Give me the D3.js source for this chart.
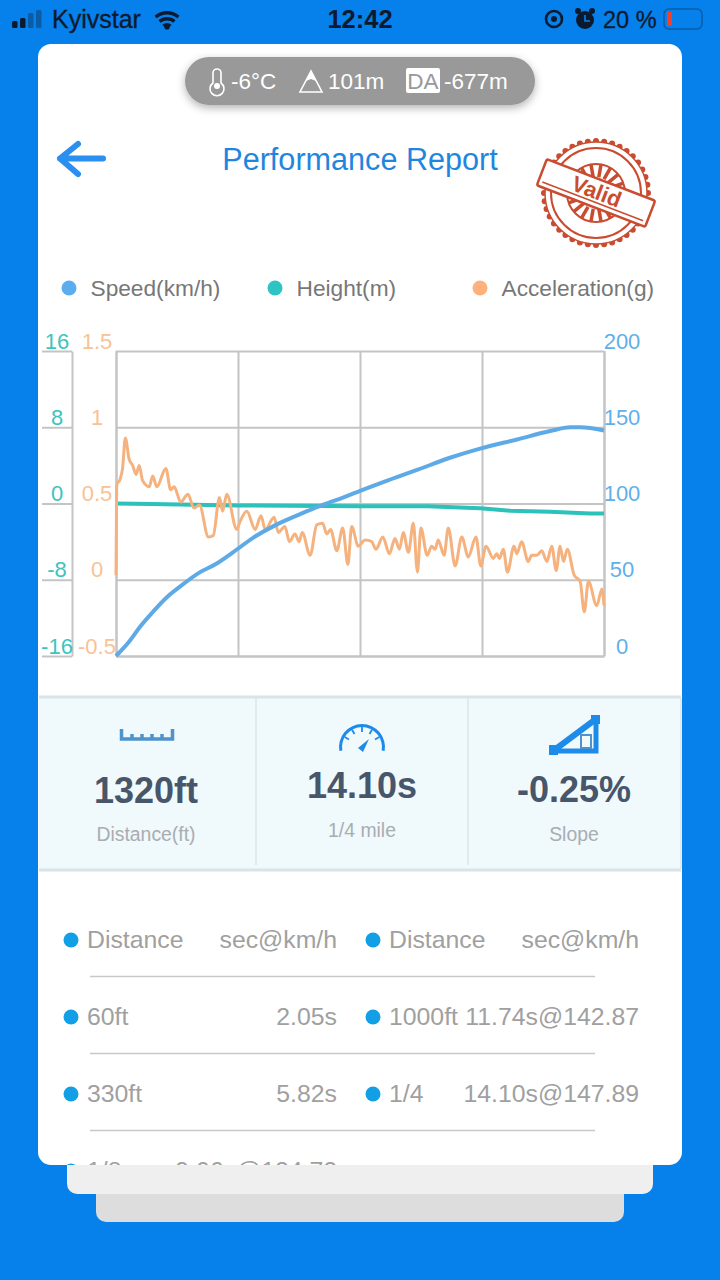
<!doctype html>
<html lang="en">
<head>
    <meta charset="utf-8">
    <script src="https://cdn.jsdelivr.net/npm/d3@7"></script>
    <style>
        html, body { margin: 0; padding: 0; background: #0680ea; }
        svg { display: block; font-family: "Liberation Sans", sans-serif; }
        .tick text { font-size: 22px; text-anchor: middle; }
        .domain { stroke: #c4c4c4; stroke-width: 2; }
        .tick line { stroke: #c4c4c4; stroke-width: 2; }
    </style>
</head>
<body>
    <svg id="page" width="720" height="1280"></svg>
    <script>
        // values
        var accelTime = [0, 0.02, 0.12, 0.19, 0.27, 0.38, 0.48, 0.58, 0.67, 0.77, 0.96, 1.06, 1.18, 1.44, 1.58, 1.68, 1.87, 2.08, 2.25, 2.41, 2.67, 2.81, 2.99, 3.08, 3.20, 3.49, 3.58, 3.78, 4.02, 4.19, 4.31, 4.57, 4.69, 4.88, 5.01, 5.17, 5.29, 5.38, 5.61, 5.80, 5.97, 6.09, 6.20, 6.38, 6.55, 6.70, 6.81, 7.00, 7.20, 7.39, 7.51, 7.71, 7.90, 8.06, 8.19, 8.30, 8.45, 8.59, 8.71, 8.81, 8.99, 9.12, 9.22, 9.31, 9.48, 9.60, 9.80, 9.99, 10.18, 10.40, 10.54, 10.69, 10.90, 11.00, 11.08, 11.19, 11.31, 11.50, 11.58, 11.72, 11.91, 12.01, 12.16, 12.30, 12.45, 12.59, 12.72, 12.83, 12.93, 13.04, 13.24, 13.41, 13.53, 13.65, 13.89, 14.04, 14.10];
        var accelValues = [0.03, 0.62, 0.66, 0.73, 0.93, 0.79, 0.75, 0.69, 0.75, 0.65, 0.61, 0.68, 0.61, 0.73, 0.59, 0.61, 0.51, 0.56, 0.47, 0.49, 0.28, 0.29, 0.54, 0.45, 0.56, 0.33, 0.38, 0.45, 0.33, 0.42, 0.33, 0.41, 0.31, 0.35, 0.25, 0.30, 0.25, 0.31, 0.16, 0.36, 0.37, 0.30, 0.33, 0.19, 0.34, 0.10, 0.35, 0.22, 0.26, 0.25, 0.20, 0.28, 0.17, 0.27, 0.20, 0.31, 0.18, 0.37, 0.05, 0.34, 0.16, 0.22, 0.20, 0.26, 0.16, 0.34, 0.09, 0.28, 0.15, 0.28, 0.09, 0.22, 0.14, 0.17, 0.14, 0.20, 0.05, 0.22, 0.17, 0.25, 0.12, 0.16, 0.16, 0.19, 0.12, 0.22, 0.06, 0.22, 0.12, 0.20, 0.03, -0.01, -0.21, -0.01, -0.17, -0.06, -0.17];
        var speedTime = [0, 0.40, 0.69, 1.07, 1.47, 1.85, 2.43, 2.86, 3.38, 3.96, 4.54, 5.32, 5.90, 6.27, 7.02, 7.72, 8.70, 9.65, 10.52, 11.59, 12.54, 13.12, 13.41, 14.10];
        var speedValues = [0, 10, 19, 29, 38.5, 45.5, 55, 60, 68, 77.5, 85, 93, 98.5, 101.5, 108, 114, 122, 130, 136, 142, 147.5, 150, 150, 147.89];
        var heightTime = [0, 1.0, 3.5, 7.0, 9.0, 10.52, 11.39, 12.54, 13.7, 14.1];
        var heightValues = [0, -0.05, -0.2, -0.3, -0.3, -0.5, -0.75, -0.86, -1.05, -1.05];

        var heightTicks = [-16, -8, 0, 8, 16];
        var accelTicks = [-0.5, 0, 0.5, 1, 1.5];
        var speedTicks = [0, 50, 100, 150, 200];
        var gridTimes = [0, 3.525, 7.05, 10.575, 14.1];

        var legendNames = ["Speed(km/h)", "Height(m)", "Acceleration(g)"];
        var statValues = ["1320ft", "14.10s", "-0.25%"];
        var statNames = ["Distance(ft)", "1/4 mile", "Slope"];
        var leftDistances = ["Distance", "60ft", "330ft", "1/8"];
        var leftResults = ["sec@km/h", "2.05s", "5.82s", "9.06s@124.72"];
        var rightDistances = ["Distance", "1000ft", "1/4"];
        var rightResults = ["sec@km/h", "11.74s@142.87", "14.10s@147.89"];

        var blue = "#0680ea",
            ink = "#0b1a2e",
            speedColor = "#5eaae6",
            heightColor = "#2cc1ba",
            accelColor = "#f5b27e",
            stampRed = "#c94c30";

        var svg = d3.select("#page");

        function label (parent, x, y, txt, size, color, anchor, weight) {
            return parent.append("text")
                .attr("x", x)
                .attr("y", y)
                .attr("font-size", size)
                .attr("fill", color)
                .attr("text-anchor", anchor || "start")
                .attr("font-weight", weight || "normal")
                .text(txt);
        }

        var defs = svg.append("defs");
        defs.append("clipPath").attr("id", "cardClip").append("rect")
            .attr("x", 38).attr("y", 44).attr("width", 644).attr("height", 1121).attr("rx", 13);
        var shadow = defs.append("filter").attr("id", "pillShadow")
            .attr("x", "-10%").attr("y", "-30%").attr("width", "120%").attr("height", "170%");
        shadow.append("feDropShadow").attr("dx", 0).attr("dy", 3).attr("stdDeviation", 4)
            .attr("flood-color", "#000").attr("flood-opacity", 0.3);

        // status bar
        var bar = svg.append("g");
        [[12, 21, ink], [20, 18, ink], [28, 13, "#0a5ca6"], [36, 10, "#0a5ca6"]].forEach(function (b) {
            bar.append("rect").attr("x", b[0]).attr("y", b[1]).attr("width", 5.5).attr("height", 28 - b[1])
                .attr("rx", 1.5).attr("fill", b[2]);
        });
        label(bar, 52, 28, "Kyivstar", 25, ink).attr("stroke", ink).attr("stroke-width", 0.3);
        [19, 13, 7].forEach(function (r) {
            bar.append("path")
                .attr("transform", "translate(167,30)")
                .attr("d", d3.arc()({innerRadius: r - 3.4, outerRadius: r, startAngle: -0.72, endAngle: 0.72}))
                .attr("fill", ink);
        });
        bar.append("circle").attr("cx", 167).attr("cy", 27).attr("r", 2.6).attr("fill", ink);
        label(bar, 360, 28, "12:42", 25.5, ink, "middle", "bold");
        bar.append("circle").attr("cx", 554).attr("cy", 19).attr("r", 8).attr("fill", "none").attr("stroke", ink).attr("stroke-width", 2.6);
        bar.append("circle").attr("cx", 554).attr("cy", 19).attr("r", 3).attr("fill", ink);
        bar.append("circle").attr("cx", 585).attr("cy", 20).attr("r", 9).attr("fill", ink);
        bar.append("circle").attr("cx", 578).attr("cy", 11).attr("r", 3).attr("fill", ink);
        bar.append("circle").attr("cx", 592).attr("cy", 11).attr("r", 3).attr("fill", ink);
        bar.append("path").attr("d", "M585 15V21H590").attr("fill", "none").attr("stroke", blue).attr("stroke-width", 1.6);
        label(bar, 603, 28, "20 %", 23.5, ink).attr("stroke", ink).attr("stroke-width", 0.3);
        bar.append("rect").attr("x", 664).attr("y", 9).attr("width", 38).attr("height", 20).attr("rx", 5)
            .attr("fill", "none").attr("stroke", "#0a5ca6").attr("stroke-width", 1.5);
        bar.append("rect").attr("x", 667).attr("y", 12).attr("width", 5).attr("height", 14).attr("rx", 1).attr("fill", "#f0402c");

        // stacked cards
        svg.append("rect").attr("x", 96).attr("y", 1170).attr("width", 528).attr("height", 52).attr("rx", 10).attr("fill", "#dddddd");
        svg.append("rect").attr("x", 67).attr("y", 1150).attr("width", 586).attr("height", 44).attr("rx", 10).attr("fill", "#efefef");
        var card = svg.append("g").attr("clip-path", "url(#cardClip)");
        card.append("rect").attr("x", 38).attr("y", 44).attr("width", 644).attr("height", 1121).attr("fill", "#fff");

        // weather pill
        var pill = svg.append("g");
        pill.append("rect").attr("x", 185).attr("y", 57).attr("width", 350).attr("height", 48).attr("rx", 24)
            .attr("fill", "#999999").attr("filter", "url(#pillShadow)");
        pill.append("path")
            .attr("d", "M213 83V73a4 4 0 0 1 8 0V83a7 7 0 1 1 -8 0Z")
            .attr("fill", "none").attr("stroke", "#fff").attr("stroke-width", 1.6);
        pill.append("circle").attr("cx", 217).attr("cy", 86).attr("r", 3).attr("fill", "#fff");
        label(pill, 231, 89, "-6°C", 22.5, "#fff");
        pill.append("path").attr("d", "M311 71L300 92H322Z").attr("fill", "none").attr("stroke", "#fff").attr("stroke-width", 1.6);
        pill.append("path").attr("d", "M311 71L306 81L311 79L316 81Z").attr("fill", "#fff");
        label(pill, 328, 89, "101m", 22.5, "#fff");
        pill.append("rect").attr("x", 406).attr("y", 68).attr("width", 34).attr("height", 25).attr("rx", 2).attr("fill", "#fff");
        label(pill, 423, 89, "DA", 22.5, "#999999", "middle");
        label(pill, 444, 89, "-677m", 22.5, "#fff");

        // header
        svg.append("path")
            .attr("d", "M78 144L60 158.5L78 174M60 158.5H103")
            .attr("fill", "none").attr("stroke", "#2b8ff0").attr("stroke-width", 6)
            .attr("stroke-linecap", "round").attr("stroke-linejoin", "round");
        label(svg, 360, 170, "Performance Report", 30.6, "#1f86e0", "middle");

        // stamp
        var stamp = svg.append("g").attr("transform", "translate(596,193)");
        stamp.selectAll(".tooth").data(d3.range(40)).enter().append("circle")
            .attr("cx", function (d) { return 52 * Math.cos(d / 40 * 2 * Math.PI); })
            .attr("cy", function (d) { return 52 * Math.sin(d / 40 * 2 * Math.PI); })
            .attr("r", 3).attr("fill", stampRed);
        stamp.append("circle").attr("r", 51).attr("fill", "#fff").attr("stroke", stampRed).attr("stroke-width", 1.5);
        stamp.append("circle").attr("r", 45).attr("fill", "none").attr("stroke", stampRed).attr("stroke-width", 2);
        stamp.append("circle").attr("r", 29).attr("fill", "none").attr("stroke", stampRed).attr("stroke-width", 2);
        stamp.selectAll(".ray").data(d3.range(18)).enter().append("line")
            .attr("x1", function (d) { return 16 * Math.cos(d / 18 * 2 * Math.PI); })
            .attr("y1", function (d) { return 16 * Math.sin(d / 18 * 2 * Math.PI); })
            .attr("x2", function (d) { return 29 * Math.cos(d / 18 * 2 * Math.PI); })
            .attr("y2", function (d) { return 29 * Math.sin(d / 18 * 2 * Math.PI); })
            .attr("stroke", stampRed).attr("stroke-width", 3.5);
        var ribbon = stamp.append("g").attr("transform", "rotate(21)");
        ribbon.append("rect").attr("x", -58).attr("y", -14).attr("width", 116).attr("height", 28).attr("rx", 2)
            .attr("fill", "#fff").attr("stroke", stampRed).attr("stroke-width", 2.5);
        ribbon.append("line").attr("x1", -54).attr("x2", 54).attr("y1", 9).attr("y2", 9).attr("stroke", stampRed).attr("stroke-width", 1.5);
        label(ribbon, 0, 6, "Valid", 22, stampRed, "middle", "bold");

        // legend
        var legendX = [69, 275, 480],
            legendColors = ["#5aaef0", "#2ec4c4", "#fdb27e"];
        legendNames.forEach(function (name, i) {
            svg.append("circle").attr("cx", legendX[i]).attr("cy", 288).attr("r", 7.5).attr("fill", legendColors[i]);
            label(svg, legendX[i] + 21.5, 296, name, 22.7, "#777777");
        });

        // chart
        var plotLeft = 116, plotRight = 604, plotTop = 351, plotBottom = 656;
        var x = d3.scaleLinear().domain([0, 14.1]).range([plotLeft, plotRight]);
        var yHeight = d3.scaleLinear().domain([-16, 16]).range([plotBottom, plotTop]);
        var yAccel = d3.scaleLinear().domain([-0.5, 1.5]).range([plotBottom, plotTop]);
        var ySpeed = d3.scaleLinear().domain([0, 200]).range([plotBottom, plotTop]);

        var chart = svg.append("g");
        var plainTick = function (d) { return String(d); };

        chart.append("g")
            .attr("transform", "translate(0," + plotBottom + ")")
            .call(d3.axisBottom(x).tickValues(gridTimes).tickSize(-(plotBottom - plotTop)).tickSizeOuter(0).tickFormat(""));

        var heightAxis = chart.append("g")
            .attr("transform", "translate(72,0)")
            .call(d3.axisLeft(yHeight).tickValues(heightTicks).tickSize(30).tickSizeOuter(0).tickFormat(plainTick));
        heightAxis.selectAll("text").attr("x", -15).attr("dy", "-0.13em").attr("fill", "#3cc4be");

        var accelAxis = chart.append("g")
            .attr("transform", "translate(" + plotLeft + ",0)")
            .call(d3.axisLeft(yAccel).tickValues(accelTicks).tickSize(-(plotRight - plotLeft)).tickSizeOuter(0).tickFormat(plainTick));
        accelAxis.selectAll("text").attr("x", -19).attr("dy", "-0.13em").attr("fill", "#f9c294");

        var speedAxis = chart.append("g")
            .attr("transform", "translate(" + plotRight + ",0)")
            .call(d3.axisRight(ySpeed).tickValues(speedTicks).tickSize(0).tickSizeOuter(0).tickFormat(plainTick));
        speedAxis.selectAll("text").attr("x", 18).attr("dy", "-0.13em").attr("fill", "#5fb0ea");

        function series (times, values, scale, color, width, curve) {
            var line = d3.line()
                .x(function (d, i) { return x(times[i]); })
                .y(function (d) { return scale(d); })
                .curve(curve);
            chart.append("path")
                .datum(values)
                .attr("d", line)
                .attr("fill", "none")
                .attr("stroke", color)
                .attr("stroke-width", width)
                .attr("stroke-linejoin", "round");
        }

        series(heightTime, heightValues, yHeight, heightColor, 4, d3.curveLinear);
        series(accelTime, accelValues, yAccel, accelColor, 3, d3.curveMonotoneX);
        series(speedTime, speedValues, ySpeed, speedColor, 4, d3.curveMonotoneX);

        // summary panel
        var panel = svg.append("g");
        panel.append("rect").attr("x", 39).attr("y", 697).attr("width", 642).attr("height", 174).attr("fill", "#f0f9fb");
        [697, 870].forEach(function (y) {
            panel.append("line").attr("x1", 39).attr("x2", 681).attr("y1", y).attr("y2", y).attr("stroke", "#d9e4e6").attr("stroke-width", 3);
        });
        [256, 468].forEach(function (xPos) {
            panel.append("line").attr("x1", xPos).attr("x2", xPos).attr("y1", 698).attr("y2", 865).attr("stroke", "#dde6e8").attr("stroke-width", 1.5);
        });
        panel.append("line").attr("x1", 681).attr("x2", 681).attr("y1", 698).attr("y2", 869).attr("stroke", "#dde6e8").attr("stroke-width", 1.5);

        var statX = [146, 362, 574],
            valueY = [803, 798, 802],
            nameY = [841, 837, 841];
        statValues.forEach(function (v, i) {
            label(panel, statX[i], valueY[i], v, 36, "#47566a", "middle", "bold");
            label(panel, statX[i], nameY[i], statNames[i], 19.4, "#a8adb2", "middle");
        });

        // ruler icon
        panel.append("path")
            .attr("d", "M121.5 729V739H172.5V729M132 734V739M142 734V739M152 734V739M162 734V739")
            .attr("fill", "none").attr("stroke", "#4f93cc").attr("stroke-width", 3.5);

        // gauge icon
        var gauge = panel.append("g").attr("transform", "translate(362,747)");
        gauge.append("path")
            .attr("d", d3.arc()({innerRadius: 20, outerRadius: 23, startAngle: -1.75, endAngle: 1.75}))
            .attr("fill", "#1d8bea");
        gauge.selectAll(".mark").data(d3.range(-60, 61, 30)).enter().append("line")
            .attr("y1", -20).attr("y2", -15)
            .attr("transform", function (d) { return "rotate(" + d + ")"; })
            .attr("stroke", "#1d8bea").attr("stroke-width", 1.8);
        gauge.append("path").attr("d", "M-4 1L7 -8L1 5Z").attr("fill", "#1d8bea");

        // slope icon
        panel.append("path")
            .attr("d", "M553 751H596V722").attr("fill", "none").attr("stroke", "#1d8bea").attr("stroke-width", 5);
        panel.append("path")
            .attr("d", "M553 751L596 719").attr("stroke", "#1d8bea").attr("stroke-width", 6);
        panel.append("rect").attr("x", 549).attr("y", 745).attr("width", 9).attr("height", 10).attr("fill", "#1d8bea");
        panel.append("rect").attr("x", 591).attr("y", 715).attr("width", 9).attr("height", 9).attr("fill", "#1d8bea");
        panel.append("rect").attr("x", 581).attr("y", 735).attr("width", 10).attr("height", 13).attr("fill", "none")
            .attr("stroke", "#4f93cc").attr("stroke-width", 2);

        // split table
        var rowY = d3.scalePoint().domain(d3.range(4)).range([948, 1179]);

        function column (dotX, textX, endX, names, results) {
            names.forEach(function (name, i) {
                card.append("circle").attr("cx", dotX).attr("cy", rowY(i) - 8).attr("r", 7.5).attr("fill", "#129fe6");
                label(card, textX, rowY(i), name, 24.8, "#a0a0a0");
                label(card, endX, rowY(i), results[i], 24.8, "#a0a0a0", "end");
            });
        }

        column(71, 87, 337, leftDistances, leftResults);
        column(373, 389, 639, rightDistances, rightResults);

        [0, 1, 2].forEach(function (i) {
            card.append("line").attr("x1", 90).attr("x2", 595)
                .attr("y1", rowY(i) + 28.5).attr("y2", rowY(i) + 28.5)
                .attr("stroke", "#c8c8c8").attr("stroke-width", 1.5);
        });
    </script>
</body>
</html>
